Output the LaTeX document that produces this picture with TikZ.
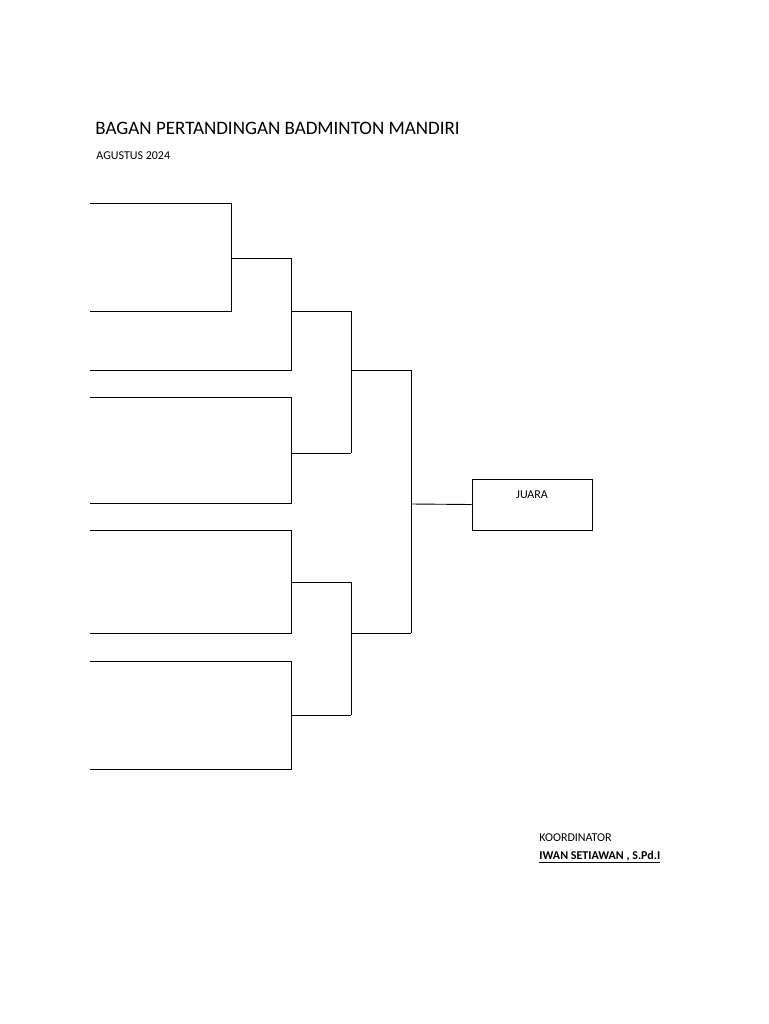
\documentclass[tikz,border=0pt]{standalone}
\usepackage{fontspec}
\setmainfont{Carlito}
\begin{document}
\begin{tikzpicture}[x=1pt,y=-1pt,line width=0.9pt,
  lbl/.style={anchor=west,inner sep=0pt,font=\fontsize{12}{14}\selectfont}]
\useasboundingbox[fill=white] (0,0) rectangle (768,1024);
\node[anchor=west,inner sep=0pt,font=\fontsize{19}{22}\selectfont] (title) at (95,128) {BAGAN PERTANDINGAN BADMINTON MANDIRI};
\node[lbl] (sub) at (96,156) {AGUSTUS 2024};
% round 1
\draw (90,203) -| (231,311) -- (90,311);
\draw (231,258) -- (291,258) |- (90,370);
\draw (291,311) -- (351,311);
\draw (90,397) -| (291,503) -- (90,503);
\draw (291,453) -- (351,453);
\draw (351,311) -- (351,453);
\draw (351,370) -- (411,370);
\draw (90,530) -| (291,633) -- (90,633);
\draw (291,582) -- (351,582);
\draw (90,661) -| (291,769) -- (90,769);
\draw (291,715) -- (351,715);
\draw (351,582) -- (351,715);
\draw (351,633) -- (411,633);
\draw (411,370) -- (411,633);
\node[draw,minimum width=120pt,minimum height=51pt,inner sep=0pt] (juara) at (532,504.5) {};
\node[inner sep=0pt,font=\fontsize{12}{14}\selectfont] (jl) at (532,495) {JUARA};
\draw (411,504) -- (juara.west);
\node[lbl] (k) at (539,838) {KOORDINATOR};
\node[lbl,font=\fontsize{12}{14}\selectfont\bfseries] (n) at (539,857) {\underline{IWAN SETIAWAN , S.Pd.I}};
\end{tikzpicture}
\end{document}
